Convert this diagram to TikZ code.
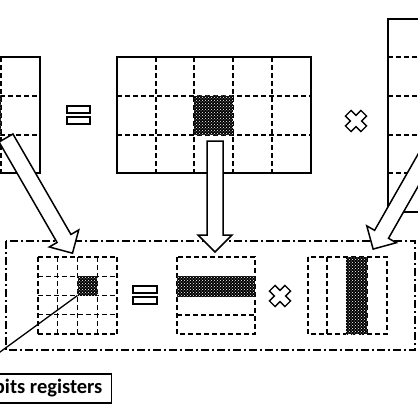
\documentclass[tikz,border=0pt]{standalone}
\usepackage{fontspec}
\setsansfont{Carlito}
\usetikzlibrary{patterns}

\tikzset{
  grid line/.style={line width=1.3pt, dash pattern=on 5pt off 3pt},
  frame line/.style={line width=1.5pt},
  reg box/.style={line width=1.2pt, dash pattern=on 8pt off 3pt on 2pt off 3pt},
  hollow/.style={draw, line width=1.5pt, fill=white, line join=miter},
  sign/.style={line width=1.3pt, line join=miter},
}
% shaded register cell
\newcommand\shadecell[2]{%
  \fill[black] #1 rectangle #2;
  \fill[pattern=crosshatch dots, pattern color=white] #1 rectangle #2;}
% hollow block arrow: tail, angle, length
\newcommand\blockarrow[3]{%
  \begin{scope}[shift={#1}, rotate=#2]
    \draw[hollow] (0,-8) -- (#3-17,-8) -- (#3-17,-17) -- (#3,0)
      -- (#3-17,17) -- (#3-17,8) -- (0,8) -- cycle;
  \end{scope}}
% hollow equals sign
\newcommand\eqmark[2]{%
  \begin{scope}[shift={#1}]
    \draw[sign] (0,0) rectangle (#2,7);
    \draw[sign] (0,11) rectangle (#2,18);
  \end{scope}}
% hollow times sign
\newcommand\crossmark[1]{%
  \begin{scope}[shift={#1}, rotate=45]
    \draw[sign] (-4,-11) -- (4,-11) -- (4,-4) -- (11,-4) -- (11,4) -- (4,4)
      -- (4,11) -- (-4,11) -- (-4,4) -- (-11,4) -- (-11,-4) -- (-4,-4) -- cycle;
  \end{scope}}

\begin{document}
\begin{tikzpicture}[x=1pt, y=-1pt]
  \useasboundingbox (0,0) rectangle (417,417);
  % result matrix C (cut at the left)
  \draw[grid line] (1,57) -- (1,173);
  \foreach \y in {96,135}
    \draw[grid line] (-80,\y) -- (40,\y);
  \shadecell{(-38,96)}{(1,135)}
  \draw[frame line] (-80,57) rectangle (40,173);
  \eqmark{(67,106)}{23}
  % matrix A
  \foreach \x in {156,194,233,272}
    \draw[grid line] (\x,57) -- (\x,173);
  \foreach \y in {96,135}
    \draw[grid line] (117,\y) -- (311,\y);
  \shadecell{(194,96)}{(233,135)}
  \draw[frame line] (117,57) rectangle (311,173);
  \crossmark{(356,121)}
  % matrix B (cut at the right)
  \foreach \y in {57,96,135,173}
    \draw[grid line] (388,\y) -- (440,\y);
  \draw[frame line] (388,19) rectangle (440,212);

  % registers
  \draw[reg box] (6,241) rectangle (415,350);
  \foreach \i in {0,...,4} {
    \draw[grid line] ({38+\i*19.75},257) -- ({38+\i*19.75},334);
    \draw[grid line] (38,{257+\i*19.25}) -- (117,{257+\i*19.25});
  }
  \shadecell{(77.5,276.25)}{(97.25,295.5)}
  \coordinate (cell) at (77.5,295.5);
  \eqmark{(133,286)}{24}
  \draw[grid line] (177,257) rectangle (255,334);
  \draw[grid line] (177,315) -- (255,315);
  \shadecell{(177,276)}{(255,297)}
  \crossmark{(280,296)}
  \draw[grid line] (308,257) rectangle (387,334);
  \foreach \x in {327,347,367}
    \draw[grid line] (\x,257) -- (\x,334);
  \shadecell{(346,257)}{(367,334)}

  % loads / stores
  \blockarrow{(6,138)}{-60}{133}
  \blockarrow{(215,141)}{-90}{111}
  \blockarrow{(452.4,110.1)}{-119.7}{160}

  % label
  \node[draw, line width=1.2pt, anchor=east, inner xsep=9pt, inner ysep=2pt,
    minimum height=29pt, font=\sffamily\bfseries\fontsize{20.5}{21}\selectfont]
    (regs) at (112,388.5) {bits registers};
  \coordinate (lead) at (-26,371);
  \draw[line width=1.3pt] (cell) -- (lead);
\end{tikzpicture}
\end{document}
